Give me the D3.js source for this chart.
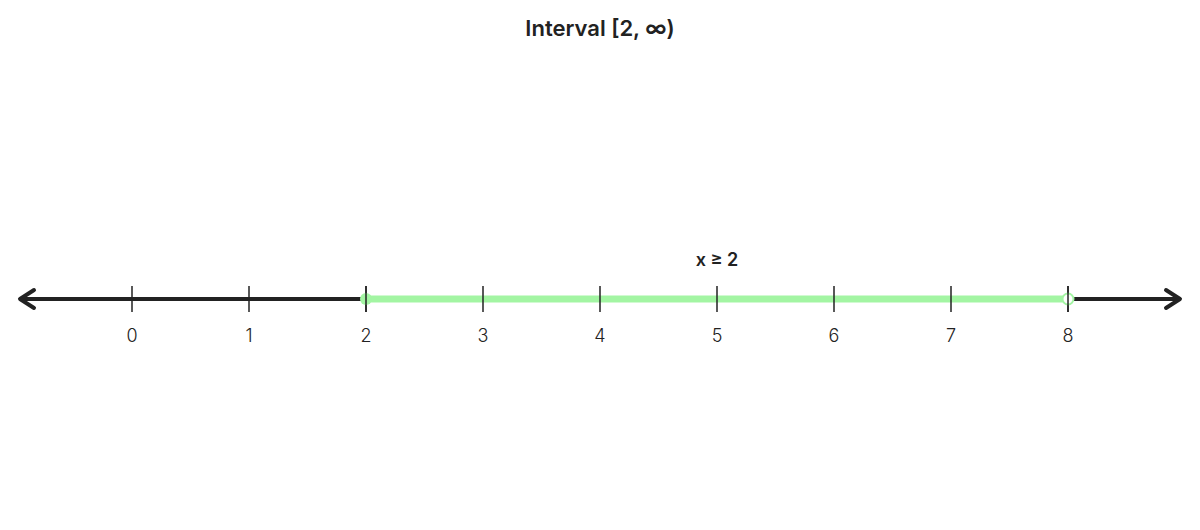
<!DOCTYPE html><html><head><meta charset="utf-8"><script src="https://cdn.jsdelivr.net/npm/d3@7"></script>
<style>body{margin:0;background:#fff}</style></head><body><svg id="c" width="1200" height="530"></svg>
<script>
const ticks=[0,1,2,3,4,5,6,7,8];
const interval=[2,8];
const title="Interval [2, ∞)";
const label="x ≥ 2";
const svg=d3.select("#c"), y=299;
const x=d3.scaleLinear().domain([0,8]).range([132,1068]);
const font="Inter, 'Noto Sans', sans-serif";
svg.append("text").attr("x",600).attr("y",36).attr("text-anchor","middle").attr("font-family",font).attr("font-weight",600).attr("font-size",22).attr("fill","#222").text(title);
svg.append("line").attr("x1",20).attr("x2",1180).attr("y1",y).attr("y2",y).attr("stroke","#222").attr("stroke-width",4);
[[20,1],[1180,-1]].forEach(([t,d])=>svg.append("path").attr("d",`M${t+d*14},${y-9}L${t},${y}L${t+d*14},${y+9}`).attr("fill","none").attr("stroke","#222").attr("stroke-width",4).attr("stroke-linecap","round").attr("stroke-linejoin","round"));
svg.append("line").attr("x1",x(interval[0])).attr("x2",x(interval[1])).attr("y1",y).attr("y2",y).attr("stroke","#a3f5a3").attr("stroke-width",7);
const g=svg.append("g").attr("transform",`translate(0,${y})`);
ticks.forEach(t=>{g.append("line").attr("x1",x(t)).attr("x2",x(t)).attr("y1",-13).attr("y2",13).attr("stroke","#222").attr("stroke-width",1.5);
g.append("text").attr("x",x(t)).attr("y",43).attr("text-anchor","middle").attr("font-family",font).attr("font-size",18).attr("font-weight",300).attr("fill","#222").text(t);});
svg.append("circle").attr("cx",x(interval[0])).attr("cy",y).attr("r",6).attr("fill","#a3f5a3");
svg.append("circle").attr("cx",x(interval[1])).attr("cy",y).attr("r",5.5).attr("fill","#fff").attr("stroke","#a3f5a3").attr("stroke-width",2);
svg.append("line").attr("x1",x(8)).attr("x2",x(8)).attr("y1",y-13).attr("y2",y+13).attr("stroke","#222").attr("stroke-width",1.5);
svg.append("line").attr("x1",x(2)).attr("x2",x(2)).attr("y1",y-13).attr("y2",y+13).attr("stroke","#222").attr("stroke-width",1.5);
svg.append("text").attr("x",x(5)).attr("y",266).attr("text-anchor","middle").attr("font-family",font).attr("font-weight",600).attr("font-size",18).attr("fill","#222").text(label);
</script></body></html>
